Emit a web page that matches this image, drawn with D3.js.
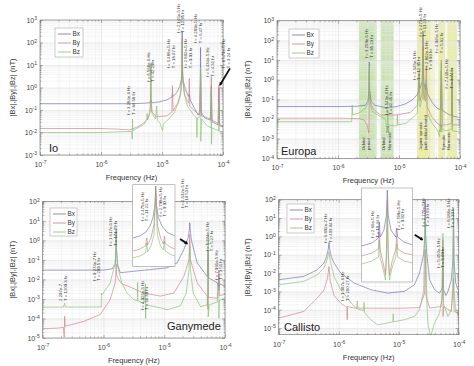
<!DOCTYPE html>
<html><head><meta charset="utf-8">
<script src="https://cdn.jsdelivr.net/npm/d3@7"></script>
<style>body{margin:0;background:#fff}svg{display:block}text{font-family:"Liberation Sans",Arial,sans-serif}</style>
</head><body><svg id="c" width="474" height="366"></svg>
<script>
// ---------------- DATA ----------------
const seriesNames = ["Bx", "By", "Bz"];
const xTickValues = [1e-7, 1e-6, 1e-5, 1e-4];

// Io
const ioBx = [[1e-7,0.19],[1e-6,0.19],[3e-6,0.19],[5e-6,0.2],[6.3e-6,0.21],[6.568e-6,0.28],[6.8e-6,0.21],[9e-6,0.23],[1.2e-5,0.28],[1.45e-5,0.38],[1.486e-5,0.5],[1.52e-5,0.4],[1.75e-5,0.6],[1.95e-5,1.1],[2.08e-5,2.2],[2.13e-5,6],[2.145e-5,300],[2.16e-5,6],[2.22e-5,2],[2.4e-5,0.9],[2.7e-5,0.4],[2.802e-5,0.5],[2.9e-5,0.28],[3.4e-5,0.12],[3.9e-5,0.06],[4.2e-5,0.08],[4.289e-5,60],[4.4e-5,0.08],[5e-5,0.045],[6.2e-5,0.035],[6.434e-5,1.2],[6.6e-5,0.03],[8.3e-5,0.022],[8.579e-5,1.0],[8.8e-5,0.02],[1e-4,0.018]];
const ioBy = [[1e-7,0.015],[1e-6,0.015],[2e-6,0.014],[3e-6,0.013],[4e-6,0.018],[5e-6,0.026],[6e-6,0.045],[6.4e-6,0.09],[6.52e-6,0.3],[6.568e-6,8],[6.62e-6,0.3],[6.8e-6,0.08],[8.2e-6,0.05],[1.2e-5,0.055],[1.45e-5,0.08],[1.486e-5,1.2],[1.52e-5,0.09],[1.8e-5,0.2],[2e-5,0.5],[2.1e-5,2],[2.145e-5,150],[2.19e-5,2],[2.35e-5,0.5],[2.6e-5,0.25],[2.75e-5,0.2],[2.802e-5,2.5],[2.86e-5,0.15],[3.3e-5,0.1],[4.1e-5,0.06],[4.289e-5,4],[4.45e-5,0.055],[5.5e-5,0.045],[6.3e-5,0.04],[6.434e-5,3],[6.6e-5,0.035],[8.4e-5,0.025],[8.579e-5,1.3],[8.8e-5,0.022],[1e-4,0.02]];
const ioBz = [[1e-7,0.01],[1e-6,0.01],[2.5e-6,0.011],[3.2e-6,0.011],[3.26e-6,0.005],[3.284e-6,0.04],[3.32e-6,0.012],[4e-6,0.016],[5e-6,0.022],[5.6e-6,0.035],[5.7e-6,0.07],[5.8e-6,0.036],[6.3e-6,0.08],[6.5e-6,0.3],[6.568e-6,12],[6.64e-6,0.3],[6.9e-6,0.07],[7.8e-6,0.04],[8.2e-6,0.15],[8.4e-6,0.035],[9.3e-6,0.025],[1.02e-5,0.012],[1.06e-5,0.025],[1.3e-5,0.04],[1.6e-5,0.08],[1.9e-5,0.25],[2.07e-5,0.8],[2.12e-5,3],[2.145e-5,100],[2.18e-5,3],[2.3e-5,0.6],[2.6e-5,0.15],[3.3e-5,0.06],[3.7e-5,0.045],[3.74e-5,0.006],[3.8e-5,0.045],[4.2e-5,0.05],[4.289e-5,8],[4.33e-5,0.004],[4.45e-5,0.04],[5.5e-5,0.02],[6.4e-5,0.016],[6.434e-5,0.8],[6.47e-5,0.003],[6.6e-5,0.016],[8.5e-5,0.012],[8.579e-5,0.2],[8.7e-5,0.011],[1e-4,0.011]];
const ioLabels = [[3.38e-6,0.06,"f = 3.284e-6 Hz","T = 84.58 hr"],[7.04e-6,1.8,"f = 6.568e-6 Hz","T = 42.29hr"],[1.53e-5,7.1,"f = 1.486e-5 Hz","T = 18.67 hr"],[2.18e-5,263,"f = 2.145e-5 Hz","T = 12.95 hr"],[2.88e-5,7.1,"f = 2.802e-5 Hz","T = 9.91 hr"],[4.2e-5,92,"f = 4.289e-5 Hz","T = 6.47 hr"],[6.68e-5,3.0,"f = 6.434e-5 Hz","T = 4.32 hr"],[1.22e-4,7.1,"f = 8.579e-5 Hz","T = 3.24 hr"]];
const ioArrow = [[1.3e-4,7.1],[8.93e-5,1.3]];

// Europa
const euBx = [[1e-7,0.043],[1e-6,0.043],[2e-6,0.044],[2.8e-6,0.05],[3.1e-6,0.08],[3.22e-6,0.3],[3.259e-6,8],[3.3e-6,0.3],[3.5e-6,0.08],[4e-6,0.05],[6e-6,0.038],[9e-6,0.042],[1.3e-5,0.06],[1.7e-5,0.1],[2.0e-5,0.18],[2.1e-5,0.25],[2.145e-5,1.2],[2.2e-5,0.35],[2.4e-5,0.8],[2.473e-5,300],[2.55e-5,0.8],[2.7e-5,0.3],[2.802e-5,0.6],[2.9e-5,0.2],[3.5e-5,0.07],[4.2e-5,0.035],[4.8e-5,0.03],[4.946e-5,3],[5.1e-5,0.028],[6.5e-5,0.017],[7.3e-5,0.015],[7.418e-5,1.5],[7.55e-5,0.014],[1e-4,0.012]];
const euBy = [[1e-7,0.011],[1e-6,0.011],[2.2e-6,0.0105],[2.65e-6,0.009],[3.0e-6,0.005],[3.2e-6,0.0019],[3.24e-6,0.005],[3.259e-6,2],[3.28e-6,0.2],[3.5e-6,0.05],[3.87e-6,0.03],[5e-6,0.016],[9.3e-6,0.016],[1.55e-5,0.022],[2e-5,0.05],[2.145e-5,3],[2.2e-5,0.08],[2.4e-5,0.2],[2.473e-5,50],[2.55e-5,0.2],[2.7e-5,0.08],[2.802e-5,5],[2.9e-5,0.04],[3.5e-5,0.012],[4.24e-5,0.006],[4.8e-5,0.005],[4.946e-5,8],[5.1e-5,0.005],[6e-5,0.005],[7.3e-5,0.006],[7.418e-5,2],[7.55e-5,0.005],[1e-4,0.005]];
const euBz = [[1e-7,0.0072],[1e-6,0.0072],[1.68e-6,0.0073],[1.71e-6,0.05],[1.74e-6,0.016],[2.2e-6,0.02],[2.82e-6,0.035],[3.1e-6,0.06],[3.22e-6,0.2],[3.259e-6,5],[3.3e-6,0.1],[3.6e-6,0.025],[5e-6,0.013],[6e-6,0.01],[6.4e-6,0.0023],[6.543e-6,0.03],[6.7e-6,0.005],[8e-6,0.0045],[9.3e-6,0.0045],[9.4e-6,0.016],[9.6e-6,0.005],[1.3e-5,0.006],[1.75e-5,0.013],[2.0e-5,0.02],[2.145e-5,2],[2.2e-5,0.04],[2.4e-5,0.1],[2.473e-5,30],[2.55e-5,0.1],[2.802e-5,1],[2.9e-5,0.02],[3.5e-5,0.006],[4.24e-5,0.0028],[4.63e-5,0.0013],[4.7e-5,0.003],[4.946e-5,10],[5.1e-5,0.003],[6e-5,0.0025],[7.3e-5,0.003],[7.418e-5,4],[7.55e-5,0.0025],[1e-4,0.0022]];
const euLabels = [[3.5e-6,12.6,"f = 3.259e-6 Hz","T = 85.23 hr"],[7.36e-6,0.016,"f = 6.543e-6 Hz","T = 42.45 hr"],[2.09e-5,0.96,"f = 2.145e-5 Hz","T = 12.95 hr"],[2.62e-5,155,"f = 2.473e-5 Hz","T = 11.23 hr"],[3.34e-5,3.1,"f = 2.802e-5 Hz","T = 9.93 hr"],[4.93e-5,22,"f = 4.946e-5 Hz","T = 5.62 hr"],[7.12e-5,0.36,"f = 7.418e-5 Hz","T = 3.74 hr"]];
const euGreenBands = [[2.2e-6,4.3e-6],[5.0e-6,8.2e-6]];
const euYellowBands = [[1.97e-5,3.3e-5],[3.3e-5,3.9e-5],[4.4e-5,5.7e-5],[6.2e-5,8.9e-5]];
const euBandTexts = [[2.77e-6,2.6e-4,"Orbital"],[3.34e-6,2.6e-4,"period"],[5.89e-6,2.6e-4,"Orbital"],[7.39e-6,2.6e-4,"Harmonic"],[6.85e-6,1.95e-3,"2nd"],[2.36e-5,2.6e-4,"Jupiter synodic"],[2.85e-5,2.6e-4,"(with orbital beats)"],[5.69e-5,2.6e-4,"Synodic"],[6.87e-5,2.6e-4,"Harmonic"],[5.16e-5,2.2e-3,"2nd"]];

// Ganymede
const gaBx = [[1e-7,0.03],[1e-6,0.03],[1.4e-6,0.035],[1.56e-6,0.06],[1.6e-6,0.3],[1.617e-6,4],[1.64e-6,0.3],[1.7e-6,0.06],[1.89e-6,0.022],[3.14e-6,0.026],[5.9e-6,0.032],[1.11e-5,0.039],[1.63e-5,0.07],[2.1e-5,0.34],[2.5e-5,1.5],[2.6e-5,4],[2.632e-5,8],[2.67e-5,4],[2.8e-5,1],[3.49e-5,0.07],[5.1e-5,0.014],[5.274e-5,0.3],[5.4e-5,0.012],[7.46e-5,0.0066],[7.8e-5,0.004],[7.931e-5,0.02],[8.0e-5,0.003],[8.1e-5,0.006],[1e-4,0.0044]];
const gaBy = [[1e-7,3e-5],[1.8e-7,3.2e-5],[2.19e-7,3.5e-5],[2.26e-7,1.1e-5],[2.297e-7,1.3e-4],[2.34e-7,4e-5],[4.7e-7,7e-5],[8.85e-7,1.6e-4],[1.29e-6,9.3e-4],[1.56e-6,6.6e-3],[1.6e-6,0.02],[1.617e-6,0.06],[1.64e-6,0.02],[1.7e-6,0.012],[2e-6,6e-3],[2.77e-6,4e-3],[4.6e-6,2e-3],[8.65e-6,1.4e-3],[1.44e-5,2e-3],[2.1e-5,0.014],[2.55e-5,0.1],[2.632e-5,2],[2.7e-5,0.1],[3.49e-5,6.6e-3],[5.1e-5,1.4e-3],[5.25e-5,3e-4],[5.274e-5,0.2],[5.35e-5,1.2e-3],[7.46e-5,1.1e-3],[7.931e-5,0.03],[8.1e-5,1.5e-3],[1e-4,1.7e-3]];
const gaBz = [[1e-7,3.8e-4],[2.19e-7,3.8e-4],[2.297e-7,6e-4],[2.35e-7,3.8e-4],[8.8e-7,3.9e-4],[9.2e-7,4e-4],[9.274e-7,2e-3],[9.4e-7,1.6e-3],[1.29e-6,6.6e-3],[1.56e-6,0.07],[1.6e-6,0.5],[1.617e-6,3],[1.64e-6,0.4],[1.7e-6,0.05],[2e-6,6.6e-3],[2.44e-6,2e-3],[3.14e-6,9.3e-4],[3.6e-6,8e-4],[3.65e-6,7e-3],[3.7e-6,8e-4],[4.6e-6,6e-4],[4.9e-6,6e-3],[4.926e-6,1e-4],[5e-6,5e-4],[8.65e-6,3.5e-4],[1.11e-5,2.8e-4],[1.85e-5,4.5e-4],[2.3e-5,2e-3],[2.55e-5,0.03],[2.632e-5,0.5],[2.7e-5,0.03],[3e-5,2e-3],[3.96e-5,4e-4],[5.1e-5,5e-4],[5.25e-5,0.05],[5.274e-5,2],[5.3e-5,1.2e-4],[5.5e-5,5e-4],[7.46e-5,7e-4],[7.9e-5,0.01],[7.931e-5,1e-4],[8e-5,8e-4],[1e-4,1.2e-3]];
const gaLabels = [[2.33e-7,7.9e-4,"2.297e-7","T = 1209.3 hr"],[8.43e-7,8.3e-3,"f = 9.274e-7 Hz","T = 299.5 hr"],[1.55e-6,0.51,"f = 1.617e-6 Hz","T = 171.79 hr"],[5.19e-6,2.7e-4,"f = 4.926e-6 Hz","T = 56.39 hr"],[2.34e-5,45,"f = 2.632e-5 Hz","T = 10.53 hr"],[6.0e-5,0.275,"f = 5.274e-5 Hz","T = 5.27 hr"],[8.47e-5,9.7e-3,"f = 7.931e-5 Hz","T = 3.51 hr"]];
const gaArrow = [[1.82e-5,1.17],[2.39e-5,0.68]];
const gaInsetBx = [[2.25e-5,0.0245],[2.36e-5,0.031],[2.46e-5,0.048],[2.53e-5,0.094],[2.58e-5,0.233],[2.62e-5,1.0],[2.632e-5,8.6],[2.646e-5,1.0],[2.683e-5,0.233],[2.75e-5,0.094],[2.84e-5,0.048],[3.0e-5,0.031]];
const gaInsetBy = [[2.25e-5,0.0056],[2.36e-5,0.0071],[2.45e-5,0.01],[2.475e-5,0.0245],[2.487e-5,0.011],[2.547e-5,0.0245],[2.6e-5,0.105],[2.632e-5,5.5],[2.664e-5,0.105],[2.72e-5,0.0245],[2.776e-5,0.0123],[2.798e-5,0.031],[2.81e-5,0.0138],[2.905e-5,0.0089],[3.0e-5,0.0071]];
const gaInsetBz = [[2.25e-5,0.0026],[2.36e-5,0.0032],[2.45e-5,0.0045],[2.475e-5,0.0138],[2.487e-5,0.005],[2.547e-5,0.01],[2.6e-5,0.034],[2.632e-5,3.1],[2.664e-5,0.034],[2.72e-5,0.01],[2.776e-5,0.0063],[2.798e-5,0.0174],[2.81e-5,0.0056],[2.905e-5,0.004],[3.0e-5,0.0032]];
const gaInsetLabels = [[2.472e-5,0.16,"f = 2.475e-5 Hz","T = 11.22 hr"],[2.805e-5,0.28,"f = 2.798e-5 Hz","T = 9.93 hr"]];

// Callisto
const clBx = [[1e-7,4.3e-3],[2.62e-7,6.6e-3],[4.39e-7,0.015],[5.68e-7,0.035],[6.3e-7,0.08],[6.7e-7,0.2],[6.892e-7,0.45],[7.1e-7,0.2],[7.6e-7,0.07],[8.35e-7,0.035],[1.08e-6,0.01],[1.81e-6,2.85e-3],[3.44e-6,1.23e-3],[6.54e-6,8.1e-4],[1.24e-5,1e-3],[1.83e-5,2.3e-3],[2.22e-5,0.01],[2.6e-5,0.1],[2.72e-5,1],[2.77e-5,100],[2.82e-5,1],[2.95e-5,0.1],[3.27e-5,4.3e-3],[3.96e-5,1.23e-3],[4.8e-5,8e-4],[5.3e-5,1.5e-3],[5.45e-5,0.2],[5.6e-5,1.2e-3],[6.1e-5,6e-4],[6.62e-5,1e-3],[7.54e-5,4e-3],[8e-5,0.05],[8.188e-5,30],[8.35e-5,0.05],[8.9e-5,3e-3],[9.75e-5,1.2e-3],[1e-4,1.1e-3]];
const clBy = [[1e-7,3.5e-5],[2.62e-7,8.1e-5],[4.39e-7,4.3e-4],[5.68e-7,1.2e-3],[6.5e-7,5e-3],[6.892e-7,0.023],[7.2e-7,4e-3],[8.35e-7,6e-4],[1.08e-6,2.3e-4],[1.37e-6,1.3e-4],[1.387e-6,2.85e-5],[1.4e-6,1.5e-4],[1.81e-6,1.23e-4],[1e-5,1.2e-4],[2.22e-5,1.3e-4],[2.7e-5,8e-4],[2.77e-5,0.19],[2.85e-5,6e-4],[3.27e-5,1.23e-4],[5.12e-5,1.5e-4],[5.4e-5,2e-3],[5.45e-5,0.66],[5.48e-5,4.3e-5],[5.6e-5,1.5e-4],[7.54e-5,8.1e-5],[8.188e-5,5e-3],[8.4e-5,8e-5],[9.75e-5,6.6e-5],[1e-4,6.6e-5]];
const clBz = [[1e-7,2.3e-3],[2.62e-7,3.5e-3],[4.39e-7,8e-3],[5.68e-7,0.019],[6.5e-7,0.06],[6.892e-7,0.15],[7.2e-7,0.05],[8.35e-7,6.6e-3],[1.08e-6,1.23e-3],[1.4e-6,4.3e-4],[1.81e-6,1.5e-4],[2.0e-6,1.2e-4],[2.05e-6,3e-4],[2.1e-6,1.1e-4],[2.34e-6,1e-4],[2.6e-6,9e-5],[2.65e-6,2.5e-4],[2.7e-6,7e-5],[3.44e-6,2.85e-5],[4.45e-6,1.5e-5],[6.54e-6,1.9e-5],[8e-6,2.2e-5],[8.1e-6,6e-5],[8.2e-6,2.2e-5],[1.24e-5,2.85e-5],[1.83e-5,4.3e-5],[2.22e-5,1e-4],[2.6e-5,1e-3],[2.77e-5,12],[2.95e-5,2e-4],[3.06e-5,1.9e-5],[3.4e-5,3.5e-6],[3.96e-5,1.9e-5],[4.8e-5,6.6e-5],[5.3e-5,5e-4],[5.45e-5,1.5],[5.6e-5,2e-4],[6.62e-5,4.3e-5],[7.54e-5,1e-4],[8e-5,1e-3],[8.188e-5,35],[8.35e-5,1e-3],[9e-5,8e-5],[9.75e-5,5.4e-5],[1e-4,5.4e-5]];
const clLabels = [[7.24e-7,0.43,"f = 6.892e-7 Hz","T = 403.04 hr"],[1.4e-6,3e-4,"f = 1.387e-6 Hz","T = 200.27 hr"],[3.02e-5,3.5,"f = 2.770e-5Hz","T = 10.03 hr"],[5.4e-5,0.019,"f = 5.450e-5 Hz","T = 5.09 hr"],[7.94e-5,2.9,"f = 8.188e-5 Hz","T = 3.39 hr"]];
const clArrow = [[1.85e-5,1.23],[2.49e-5,0.66]];
const clInsetBx = [[2.526e-5,0.034],[2.603e-5,0.0457],[2.653e-5,0.0745],[2.66e-5,0.357],[2.667e-5,0.082],[2.696e-5,0.163],[2.716e-5,0.71],[2.723e-5,8.2],[2.73e-5,0.71],[2.752e-5,0.163],[2.791e-5,0.082],[2.799e-5,0.2],[2.806e-5,0.082],[2.859e-5,0.05],[2.933e-5,0.0375]];
const clInsetBy = [[2.526e-5,0.0128],[2.603e-5,0.0171],[2.653e-5,0.0254],[2.66e-5,0.134],[2.667e-5,0.023],[2.688e-5,0.0071],[2.708e-5,0.002],[2.716e-5,0.023],[2.723e-5,3.09],[2.73e-5,0.023],[2.74e-5,0.002],[2.76e-5,0.0071],[2.791e-5,0.0254],[2.799e-5,0.0906],[2.806e-5,0.0254],[2.859e-5,0.0171],[2.933e-5,0.0141]];
const clInsetBz = [[2.526e-5,0.0058],[2.603e-5,0.0078],[2.653e-5,0.0116],[2.66e-5,0.061],[2.667e-5,0.0105],[2.688e-5,0.0039],[2.708e-5,0.0012],[2.716e-5,0.0086],[2.723e-5,1.16],[2.73e-5,0.0086],[2.74e-5,0.0012],[2.76e-5,0.0039],[2.791e-5,0.0116],[2.799e-5,0.0414],[2.806e-5,0.0116],[2.859e-5,0.0078],[2.933e-5,0.0064]];
const clInsetLabels = [[2.644e-5,0.0745,"f = 2.66e-5 Hz","T = 10.44 hr"],[2.848e-5,0.168,"f = 2.799e-5 Hz","T = 9.92 hr"]];

// ---------------- DRAWING ----------------
const colors = {Bx:"#6c6cb2", By:"#d07a86", Bz:"#84c06c"};
const svg = d3.select("#c");
const defs = svg.append("defs");
defs.append("marker").attr("id","ah").attr("viewBox","0 0 10 10").attr("refX",7).attr("refY",5)
  .attr("markerWidth",2).attr("markerHeight",2).attr("orient","auto")
  .append("path").attr("d","M0,0L10,5L0,10z").attr("fill","#111");

const panels = [
  {id:"io", name:"Io", L:40, R:223, T:20, B:155, yDom:[1e-3,1e3], series:[ioBx,ioBy,ioBz], labels:ioLabels, arrow:ioArrow,
   legend:[55,28,28,29], nameXY:[49,152], ylabX:12},
  {id:"eu", name:"Europa", L:277, R:460, T:20.7, B:158.3, yDom:[1e-4,1e3], series:[euBx,euBy,euBz], labels:euLabels,
   legend:[289,29,30,29], nameXY:[281,155], ylabX:247, bands:true},
  {id:"ga", name:"Ganymede", L:42.7, R:225, T:201.3, B:338, yDom:[1e-5,1e2], series:[gaBx,gaBy,gaBz], labels:gaLabels, arrow:gaArrow,
   legend:[50,208,27,28], nameXY:[167,330], ylabX:12,
   inset:{box:[132.7,184.7,175,266.3], xDom:[2.244e-5,3.008e-5], yDom:[1e-3,10], series:[gaInsetBx,gaInsetBy,gaInsetBz], labels:gaInsetLabels}},
  {id:"cl", name:"Callisto", L:278.7, R:458.7, T:199.7, B:334.7, yDom:[Math.pow(10,-5.36),1e2], series:[clBx,clBy,clBz], labels:clLabels, arrow:clArrow,
   legend:[287,204,27,29], nameXY:[284,331], ylabX:247,
   inset:{box:[361.7,188,412.7,282], xDom:[2.526e-5,2.933e-5], yDom:[1e-3,10], series:[clInsetBx,clInsetBy,clInsetBz], labels:clInsetLabels}}
];

function decades(dom){
  const a = Math.ceil(Math.log10(dom[0]) - 1e-9), b = Math.floor(Math.log10(dom[1]) + 1e-9);
  return d3.range(a, b + 1).map(e => Math.pow(10, e));
}
function minors(dom){
  const out = [];
  const a = Math.floor(Math.log10(dom[0])), b = Math.ceil(Math.log10(dom[1]));
  for (let e = a; e < b; e++) for (let k = 2; k <= 9; k++) {
    const v = k * Math.pow(10, e);
    if (v >= dom[0] * 0.999 && v <= dom[1] * 1.001) out.push(v);
  }
  return out;
}
function supFormat(sel){
  sel.each(function(d){
    const t = d3.select(this); const e = Math.round(Math.log10(d));
    t.text(null);
    t.append("tspan").text("10");
    t.append("tspan").attr("dy","-0.5em").attr("font-size","5px").text(String(e));
  });
}
function drawLabels(g, x, y, list){
  list.forEach(([f, v, a, b]) => {
    const px = x(f) + 1.5, py = y(v);
    [[a, px - 4.5], [b, px]].forEach(([txt, xx]) => {
      g.append("text").attr("transform", `translate(${xx},${py}) rotate(-90)`)
        .attr("font-size","4.3px").attr("fill","#333").text(txt);
    });
  });
}

panels.forEach(p => {
  const x = d3.scaleLog().domain([1e-7, 1e-4]).range([p.L, p.R]);
  const y = d3.scaleLog().domain(p.yDom).range([p.B, p.T]);
  const g = svg.append("g");
  const w = p.R - p.L, h = p.B - p.T;
  defs.append("clipPath").attr("id", "clip-" + p.id).append("rect")
    .attr("x", p.L).attr("y", p.T).attr("width", w).attr("height", h);

  g.append("rect").attr("x", p.L).attr("y", p.T).attr("width", w).attr("height", h).attr("fill", "#fff");

  if (p.bands) {
    euGreenBands.forEach(([a, b]) => g.append("rect").attr("x", x(a)).attr("y", p.T).attr("width", x(b) - x(a)).attr("height", h)
      .attr("fill", "#b9d99a").attr("opacity", 0.75));
    euYellowBands.forEach(([a, b], i) => g.append("rect").attr("x", x(a)).attr("y", p.T).attr("width", x(b) - x(a)).attr("height", h)
      .attr("fill", i === 1 ? "#f1f2c4" : "#e6e98c").attr("opacity", 0.8));
  }

  const xMaj = decades(x.domain()), xMin = minors(x.domain());
  const yMaj = decades(y.domain()), yMin = minors(y.domain());
  const grid = (axis, vals, size, col, tr) => {
    const gg = g.append("g").attr("transform", tr).call(axis.tickValues(vals).tickSize(size).tickFormat(""));
    gg.select(".domain").remove();
    gg.selectAll("line").attr("stroke", col).attr("stroke-width", 0.5);
  };
  grid(d3.axisBottom(x), xMin, -h, "#ebebeb", `translate(0,${p.B})`);
  grid(d3.axisLeft(y), yMin, -w, "#ebebeb", `translate(${p.L},0)`);
  grid(d3.axisBottom(x), xMaj, -h, "#d6d6d6", `translate(0,${p.B})`);
  grid(d3.axisLeft(y), yMaj, -w, "#d6d6d6", `translate(${p.L},0)`);

  if (p.bands) {
    euBandTexts.forEach(([f, v, t]) => g.append("text").attr("transform", `translate(${x(f)},${y(v)}) rotate(-90)`)
      .attr("font-size","4.3px").attr("fill","#333").text(t));
  }

  const line = d3.line().x(d => x(d[0])).y(d => y(d[1]));
  const lg = g.append("g").attr("clip-path", `url(#clip-${p.id})`);
  p.series.forEach((s, i) => {
    lg.append("path").datum(s).attr("d", line).attr("fill", "none")
      .attr("stroke", colors[seriesNames[i]]).attr("stroke-width", 0.65).attr("stroke-linejoin","round");
  });

  g.append("rect").attr("x", p.L).attr("y", p.T).attr("width", w).attr("height", h)
    .attr("fill", "none").attr("stroke", "#6a6a6a").attr("stroke-width", 0.6);

  const tk = (axis, vals, size, tr) => {
    const gg = g.append("g").attr("transform", tr).call(axis.tickValues(vals).tickSize(size).tickFormat(""));
    gg.select(".domain").remove();
    gg.selectAll("line").attr("stroke", "#6a6a6a").attr("stroke-width", 0.5);
  };
  tk(d3.axisBottom(x), xMaj, -3, `translate(0,${p.B})`);
  tk(d3.axisBottom(x), xMin, -1.5, `translate(0,${p.B})`);
  tk(d3.axisTop(x), xMaj, -3, `translate(0,${p.T})`);
  tk(d3.axisTop(x), xMin, -1.5, `translate(0,${p.T})`);
  tk(d3.axisLeft(y), yMaj, -3, `translate(${p.L},0)`);
  tk(d3.axisLeft(y), yMin, -1.5, `translate(${p.L},0)`);
  tk(d3.axisRight(y), yMaj, -3, `translate(${p.R},0)`);
  tk(d3.axisRight(y), yMin, -1.5, `translate(${p.R},0)`);

  const xl = g.append("g").attr("transform", `translate(0,${p.B})`)
    .call(d3.axisBottom(x).tickValues(xTickValues).tickSize(0).tickPadding(7));
  xl.select(".domain").remove();
  xl.selectAll("text").attr("font-size", "7px").attr("fill", "#444").attr("font-family", "Liberation Sans, Arial, sans-serif").call(supFormat);
  const yl = g.append("g").attr("transform", `translate(${p.L},0)`)
    .call(d3.axisLeft(y).tickValues(yMaj).tickSize(0).tickPadding(3));
  yl.select(".domain").remove();
  yl.selectAll("text").attr("font-size", "7px").attr("fill", "#444").attr("font-family", "Liberation Sans, Arial, sans-serif").call(supFormat);

  g.append("text").attr("x", (p.L + p.R) / 2).attr("y", p.B + 25).attr("text-anchor", "middle")
    .attr("font-size", "7.5px").attr("fill", "#333").text("Frequency (Hz)");
  g.append("text").attr("transform", `translate(${p.ylabX + 3},${(p.T + p.B) / 2}) rotate(-90)`).attr("text-anchor", "middle")
    .attr("font-size", "7.5px").attr("fill", "#333").text("|Bx|,|By|,|Bz| (nT)");

  const [lx, ly, lw, lh] = p.legend;
  g.append("rect").attr("x", lx).attr("y", ly).attr("width", lw).attr("height", lh)
    .attr("fill", "#fff").attr("stroke", "#9a9a9a").attr("stroke-width", 0.5);
  seriesNames.forEach((n, i) => {
    const yy = ly + 6 + i * 9;
    g.append("line").attr("x1", lx + 3).attr("x2", lx + 16).attr("y1", yy).attr("y2", yy)
      .attr("stroke", colors[n]).attr("stroke-width", 0.8);
    g.append("text").attr("x", lx + 17.5).attr("y", yy + 2.2).attr("font-size", "6.3px").attr("fill", "#333").text(n);
  });

  g.append("text").attr("x", p.nameXY[0]).attr("y", p.nameXY[1]).attr("font-family", "Open Sans, sans-serif")
    .attr("font-size", "11px").attr("fill", "#222").text(p.name);

  drawLabels(g, x, y, p.labels);

  if (p.inset) {
    const [x0, y0, x1, y1] = p.inset.box;
    const ix = d3.scaleLog().domain(p.inset.xDom).range([x0, x1]);
    const iy = d3.scaleLog().domain(p.inset.yDom).range([y1, y0]);
    const ig = g.append("g");
    defs.append("clipPath").attr("id", "iclip-" + p.id).append("rect")
      .attr("x", x0).attr("y", y0).attr("width", x1 - x0).attr("height", y1 - y0);
    ig.append("rect").attr("x", x0).attr("y", y0).attr("width", x1 - x0).attr("height", y1 - y0).attr("fill", "#fff");
    const il = d3.line().x(d => ix(d[0])).y(d => iy(d[1]));
    const ilg = ig.append("g").attr("clip-path", `url(#iclip-${p.id})`);
    p.inset.series.forEach((s, i) => ilg.append("path").datum(s).attr("d", il).attr("fill", "none")
      .attr("stroke", colors[seriesNames[i]]).attr("stroke-width", 0.65));
    ig.append("rect").attr("x", x0).attr("y", y0).attr("width", x1 - x0).attr("height", y1 - y0)
      .attr("fill", "none").attr("stroke", "#9a9a9a").attr("stroke-width", 0.6);
    drawLabels(ig, ix, iy, p.inset.labels);
  }

  if (p.arrow) {
    g.append("line").attr("x1", x(p.arrow[0][0])).attr("y1", y(p.arrow[0][1]))
      .attr("x2", x(p.arrow[1][0])).attr("y2", y(p.arrow[1][1]))
      .attr("stroke", "#111").attr("stroke-width", 1.8).attr("marker-end", "url(#ah)");
  }
});
</script>
</body></html>
